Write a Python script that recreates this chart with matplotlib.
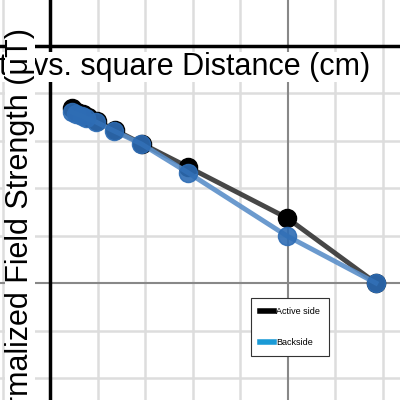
import matplotlib
matplotlib.use("Agg")
import matplotlib.pyplot as plt
import numpy as np

# data in grid units
active_x = [0.46, 0.57, 0.69, 0.80, 0.99, 1.37, 1.94, 2.91, 4.99, 6.86]
active_y = [3.68, 3.60, 3.56, 3.49, 3.41, 3.22, 2.93, 2.44, 1.37, 0.0]
back_x = [0.46, 0.55, 0.67, 0.76, 0.97, 1.35, 1.92, 2.91, 4.99, 6.86]
back_y = [3.60, 3.56, 3.52, 3.47, 3.39, 3.20, 2.93, 2.32, 0.99, 0.0]

fig = plt.figure(figsize=(4, 4), dpi=100)
ax = fig.add_axes([0, 0, 1, 1])
u = 47.5
ax.set_xlim(-50/u, 350/u)
ax.set_ylim(-117/u, 283/u)
for s in ax.spines.values():
    s.set_visible(False)
ax.set_xticks([]); ax.set_yticks([])

for gx in range(-1, 8):
    if gx not in (0, 5):
        ax.axvline(gx, color='#dddddd', lw=1.8, zorder=0)
for gy in range(-3, 7):
    if gy not in (0, 5):
        ax.axhline(gy, color='#dddddd', lw=1.8, zorder=0)
ax.axvline(5, color='#888888', lw=1.5, zorder=0)
ax.axhline(0, color='#888888', lw=1.5, zorder=0)
ax.axvline(0, color='black', lw=2.5, zorder=1)
ax.axhline(5, color='black', lw=2.5, zorder=1)

ax.plot(active_x, active_y, color='#333333', lw=3.5, alpha=0.9, zorder=2)
ax.scatter(active_x, active_y, s=170, color='black', zorder=3)
ax.plot(back_x, back_y, color='#5b8fc9', lw=3.5, alpha=0.9, zorder=4)
ax.scatter(back_x, back_y, s=170, color='#2e6db5', alpha=0.9, zorder=5)

fam = ['Liberation Sans', 'DejaVu Sans']
ax.text(370/400, 1-67/400, "Field Strength vs. square Distance (cm)", transform=ax.transAxes,
        ha='right', va='center', fontsize=22, zorder=6, family=fam,
        bbox=dict(facecolor='white', edgecolor='none', pad=0))
ax.text(20/400, 1-28/400, "Normalized Field Strength (μT)", transform=ax.transAxes,
        ha='right', va='center', rotation=90, rotation_mode='anchor', fontsize=22, zorder=6,
        family=fam, bbox=dict(facecolor='white', edgecolor='none', pad=0))

from matplotlib.lines import Line2D
h = [Line2D([], [], color='black', lw=4), Line2D([], [], color='#1a9ad6', lw=4)]
leg = ax.legend(h, ['Active side', 'Backside'], loc='upper left',
                bbox_to_anchor=(251/400, 1-298/400), fancybox=False,
                edgecolor='#333333', framealpha=1, handlelength=1.6, labelspacing=2.4,
                borderpad=1.0, handletextpad=0.2, borderaxespad=0,
                prop={'family': fam, 'size': 6.5})
leg.get_frame().set_linewidth(0.8)
leg.set_zorder(7)

fig.savefig("out.png", dpi=100)
